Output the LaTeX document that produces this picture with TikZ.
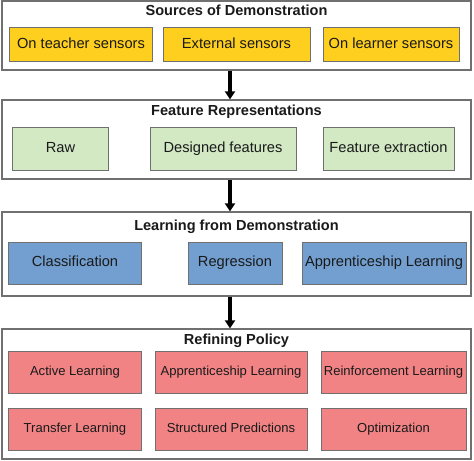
\documentclass[tikz,border=0pt]{standalone}
\usepackage{fontspec}
\setmainfont{Liberation Sans}
\usetikzlibrary{arrows.meta}
\definecolor{bordergray}{HTML}{707070}
\definecolor{ylw}{HTML}{FFCF1F}
\definecolor{grn}{HTML}{D2E9C4}
\definecolor{blu}{HTML}{729FCF}
\definecolor{rd}{HTML}{F28385}
\definecolor{txt}{HTML}{1A1A1A}
\tikzset{
  outerbox/.style={draw=bordergray, line width=1.3bp, fill=white, inner sep=0pt},
  titletext/.style={font=\fontsize{14.6}{17}\selectfont\bfseries, text=txt, inner sep=0pt, text height=0.7em, text depth=0.02em},
  itembox/.style={draw=bordergray, line width=1bp, inner sep=0pt, text=txt, font=\fontsize{14.7}{17}\selectfont, text height=0.7em, text depth=0.02em},
  ybox/.style={itembox, fill=ylw},
  gbox/.style={itembox, fill=grn},
  bbox/.style={itembox, fill=blu},
  rbox/.style={itembox, fill=rd, font=\fontsize{13.1}{16}\selectfont},
  flow/.style={line width=3.5bp, -{Triangle[length=8bp,width=10bp]}, black}
}
\begin{document}
\begin{tikzpicture}[x=1bp,y=-1bp]
\useasboundingbox (0,0) rectangle (474,461);
% outer boxes
\node[outerbox, minimum width=469bp, minimum height=69bp] (B1) at (236.5,35.5) {};
\node[outerbox, minimum width=469bp, minimum height=79bp] (B2) at (236.5,139.5) {};
\node[outerbox, minimum width=469bp, minimum height=84bp] (B3) at (236.5,254) {};
\node[outerbox, minimum width=469bp, minimum height=130bp] (B4) at (236.5,394) {};
% titles
\node[titletext] (T1) at (236.5,12.5) {Sources of Demonstration};
\node[titletext] (T2) at (236.5,112.5) {Feature Representations};
\node[titletext] (T3) at (236.5,227) {Learning from Demonstration};
\node[titletext] (T4) at (236.5,341) {Refining Policy};
% yellow
\node[ybox, minimum width=142bp, minimum height=34bp] (Y1) at (81,45) {On teacher sensors};
\node[ybox, minimum width=147bp, minimum height=34bp] (Y2) at (236.5,45) {External sensors};
\node[ybox, minimum width=136bp, minimum height=34bp] (Y3) at (391,45) {On learner sensors};
% green
\node[gbox, minimum width=95bp, minimum height=43bp] (G1) at (60.5,149.5) {Raw};
\node[gbox, minimum width=146bp, minimum height=43bp] (G2) at (223,149.5) {Designed features};
\node[gbox, minimum width=131bp, minimum height=43bp] (G3) at (388.5,149.5) {Feature extraction};
% blue
\node[bbox, minimum width=132bp, minimum height=42bp] (L1) at (75,263) {Classification};
\node[bbox, minimum width=94bp, minimum height=42bp] (L2) at (235,263) {Regression};
\node[bbox, minimum width=164bp, minimum height=42bp] (L3) at (384,263) {Apprenticeship Learning};
% red
\node[rbox, minimum width=132bp, minimum height=42bp] (R1) at (75,372) {Active Learning};
\node[rbox, minimum width=152bp, minimum height=42bp] (R2) at (231,372) {Apprenticeship Learning};
\node[rbox, minimum width=145bp, minimum height=42bp] (R3) at (393.5,372) {Reinforcement Learning};
\node[rbox, minimum width=132bp, minimum height=42bp] (R4) at (75,429) {Transfer Learning};
\node[rbox, minimum width=152bp, minimum height=42bp] (R5) at (231,429) {Structured Predictions};
\node[rbox, minimum width=145bp, minimum height=42bp] (R6) at (393.5,429) {Optimization};
% arrows
\draw[flow] (B1.south -| 230,0) -- (B2.north -| 230,0);
\draw[flow] (B2.south -| 230,0) -- (B3.north -| 230,0);
\draw[flow] (B3.south -| 230,0) -- (B4.north -| 230,0);
\end{tikzpicture}
\end{document}
